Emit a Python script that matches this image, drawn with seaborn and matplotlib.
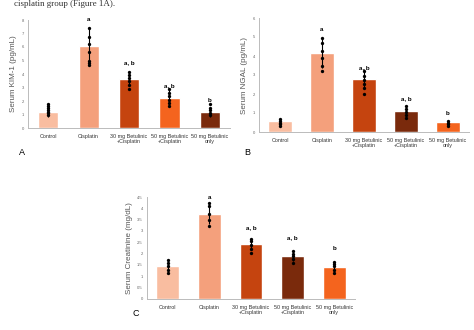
import numpy as np
import pandas as pd
import matplotlib
matplotlib.use("Agg")
import matplotlib.pyplot as plt
import seaborn as sns

sns.set_style("white")
plt.rcParams['font.family'] = ['Liberation Sans', 'DejaVu Sans']

groups = ["Control", "Cisplatin", "30 mg Betulinic\n+Cisplatin",
          "50 mg Betulinic\n+Cisplatin", "50 mg Betulinic\nonly"]

# Panel A: Serum KIM-1
kim_means = [1.2, 6.1, 3.63, 2.2, 1.2]
kim_sd = [0.35, 1.2, 0.5, 0.6, 0.35]
kim_points = [[0.95, 1.1, 1.2, 1.3, 1.45, 1.6, 1.75],
              [4.65, 4.8, 5.0, 5.6, 6.25, 6.75, 7.4],
              [2.9, 3.2, 3.5, 3.7, 3.9, 4.15],
              [1.6, 1.85, 2.1, 2.35, 2.6, 2.9],
              [0.95, 1.1, 1.3, 1.5, 1.75]]
kim_sig = ["a", "a", "a, b", "a, b", "b"]
kim_sig_y = [None, 8.05, 4.85, 3.15, 2.05]
kim_colors = ["#F9BDA0", "#F4A07C", "#C5440F", "#F4641E", "#7A2A0C"]

# Panel B: Serum NGAL
ngal_means = [0.56, 4.16, 2.79, 1.09, 0.53]
ngal_sd = [0.15, 0.8, 0.5, 0.25, 0.12]
ngal_points = [[0.3, 0.4, 0.5, 0.6, 0.68],
               [3.2, 3.5, 3.9, 4.25, 4.7, 4.95],
               [2.0, 2.3, 2.55, 2.75, 2.95, 3.2],
               [0.75, 0.9, 1.05, 1.2, 1.35],
               [0.3, 0.4, 0.5, 0.6]]
ngal_sig = ["", "a", "a, b", "a, b", "b"]
ngal_sig_y = [None, 5.4, 3.4, 1.75, 0.95]
ngal_colors = ["#F9BDA0", "#F4A07C", "#C5440F", "#7A2A0C", "#F4641E"]

# Panel C: Serum Creatinine
creat_means = [1.46, 3.74, 2.41, 1.90, 1.42]
creat_sd = [0.25, 0.45, 0.25, 0.22, 0.22]
creat_points = [[1.14, 1.3, 1.45, 1.6, 1.72],
                [3.22, 3.5, 3.75, 4.1, 4.24],
                [2.05, 2.2, 2.4, 2.55, 2.65],
                [1.6, 1.75, 1.9, 2.0, 2.1],
                [1.14, 1.3, 1.45, 1.55, 1.65]]
creat_sig = ["", "a", "a, b", "a, b", "b"]
creat_sig_y = [None, 4.47, 3.14, 2.72, 2.24]
creat_colors = ["#F9BDA0", "#F4A07C", "#C5440F", "#7A2A0C", "#F4641E"]

W, H = 474, 330
fig = plt.figure(figsize=(W / 100, H / 100), dpi=100)
fig.patch.set_facecolor("white")


def px_axes(x0, x1, y_top, y_bot):
    return fig.add_axes([x0 / W, (H - y_bot) / H, (x1 - x0) / W, (y_bot - y_top) / H])


def panel(ax, means, sd, points, sig, sig_y, colors, ylabel, ymax, yticks, yticklabels, bw):
    df = pd.DataFrame({"group": groups, "value": means})
    sns.barplot(data=df, x="group", y="value", hue="group", palette=colors,
                legend=False, ax=ax, width=bw, saturation=1, errorbar=None)
    ax.errorbar(range(len(groups)), means, yerr=sd, fmt="none", ecolor="black",
                elinewidth=0.8, capsize=0, zorder=3)
    pts = pd.DataFrame({"group": [g for g, p in zip(groups, points) for _ in p],
                        "value": [v for p in points for v in p]})
    sns.stripplot(data=pts, x="group", y="value", order=groups, jitter=False,
                  color="black", size=2.4, ax=ax, zorder=4)
    for i, (s, y) in enumerate(zip(sig, sig_y)):
        if y is not None and s:
            ax.text(i, y, s, ha="center", va="center", fontsize=4.5,
                    fontweight="bold", color="black")
    ax.set_xlim(-0.5, 4.5)
    ax.set_ylim(0, ymax)
    ax.set_yticks(yticks)
    ax.set_yticklabels(yticklabels)
    ax.tick_params(axis="y", labelsize=3, colors="#666666", length=0, pad=3)
    ax.tick_params(axis="x", labelsize=3.9, colors="#333333", length=0, pad=4)
    ax.set_xlabel("")
    ax.set_ylabel(ylabel, fontsize=5.8, color="#555555", labelpad=3)
    for s in ["top", "right"]:
        ax.spines[s].set_visible(False)
    for s in ["left", "bottom"]:
        ax.spines[s].set_color("#BBBBBB")
        ax.spines[s].set_linewidth(0.7)
    ax.set_facecolor("white")


axA = px_axes(28, 230, 20, 128)
panel(axA, kim_means, kim_sd, kim_points, kim_sig, kim_sig_y, kim_colors,
      "Serum KIM-1 (pg/mL)", 8, list(range(9)), [str(i) for i in range(9)], 0.5)

axB = px_axes(259, 469, 18, 132)
panel(axB, ngal_means, ngal_sd, ngal_points, ngal_sig, ngal_sig_y, ngal_colors,
      "Serum NGAL (pg/mL)", 6, list(range(7)), [str(i) for i in range(7)], 0.55)

axC = px_axes(147, 355, 197, 299)
cticks = [0, 0.5, 1, 1.5, 2, 2.5, 3, 3.5, 4, 4.5]
panel(axC, creat_means, creat_sd, creat_points, creat_sig, creat_sig_y, creat_colors,
      "Serum Creatinine (mg/dL)", 4.5, cticks, ["0", "0.5", "1", "1.5", "2", "2.5", "3", "3.5", "4", "4.5"], 0.55)

fig.text(22 / W, 1 - 152 / H, "A", fontsize=6.5, ha="center", va="center", color="black")
fig.text(247 / W, 1 - 152 / H, "B", fontsize=6.5, ha="center", va="center", color="black")
fig.text(136 / W, 1 - 313 / H, "C", fontsize=6.5, ha="center", va="center", color="black")
fig.text(14 / W, 1 - 0.5 / H, "cisplatin group (Figure 1A).", fontsize=6.5, ha="left", va="top",
         family=["Liberation Serif", "DejaVu Serif"], color="#333333")

fig.savefig("out.png", dpi=100, facecolor="white")
